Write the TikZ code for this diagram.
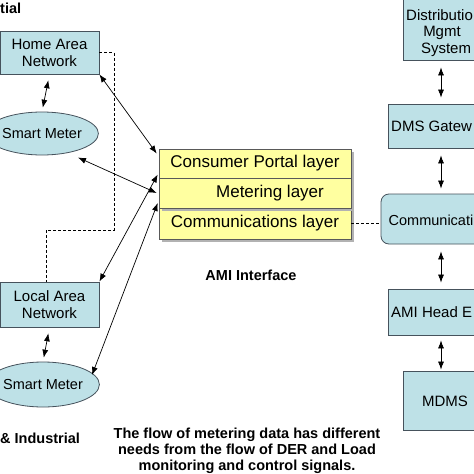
\documentclass[tikz,border=0pt]{standalone}
\usepackage{fontspec}
\setmainfont{Liberation Sans}
\usetikzlibrary{arrows.meta,shadows,calc,shapes.geometric}
\definecolor{boxfill}{RGB}{190,225,231}
\definecolor{layerfill}{RGB}{255,255,160}
\definecolor{edge}{RGB}{70,82,92}
\begin{document}
\begin{tikzpicture}[x=1pt,y=-1pt,
  box/.style={draw=edge, fill=boxfill, line width=0.8pt, inner sep=0pt, align=center, font=\fontsize{15}{17}\selectfont},
  oval/.style={ellipse, draw=edge, fill=boxfill, line width=0.8pt, inner sep=0pt, font=\fontsize{14.5}{17}\selectfont},
  layer/.style={draw=gray!70!black, fill=layerfill, line width=0.6pt, minimum width=192pt, inner sep=0pt, font=\fontsize{17}{20}\selectfont, drop shadow={shadow xshift=3pt, shadow yshift=-3pt, fill=gray!60, opacity=1}},
  dbl/.style={{Latex[length=8pt,width=6pt]}-{Latex[length=8pt,width=6pt]}, line width=0.7pt},
  dashline/.style={dashed, dash pattern=on 3pt off 2pt, line width=0.7pt},
  lbl/.style={inner sep=0pt, font=\fontsize{15}{17}\selectfont},
  bold/.style={inner sep=0pt, font=\bfseries\fontsize{14.5}{16}\selectfont, align=center}
]
\useasboundingbox (0,0) rectangle (474,474);
\clip (0,0) rectangle (474,474);
\fill[white] (0,0) rectangle (474,474);

% dashed lines (behind boxes)
\coordinate (d1) at (114,230);
\coordinate (d2) at (46,230);
\coordinate (c3) at (114,52.5);

% left column
\node[box, minimum width=99pt, minimum height=43pt] (han) at (49.5,52.5) {Home Area\\Network};
\node[oval, minimum width=94pt, minimum height=43pt] (sm1) at (42,133.5) {Smart Meter};
\node[box, minimum width=99pt, minimum height=45pt] (lan) at (49.5,304.5) {Local Area\\Network};
\node[oval, minimum width=94pt, minimum height=45pt] (sm2) at (43,384.5) {Smart Meter};

\draw[dashline] (han.east) -- (c3) -- (d1) -- (d2) -- (d2 |- lan.north);

% layers
\node[layer, minimum height=29pt] (cp) at (255,163.5) {Consumer Portal layer};
\node[layer, minimum height=30pt] (ml) at (255,193) {\hspace*{30pt}Metering layer};
\node[layer, minimum height=31pt] (cl) at (255,223.5) {Communications layer};
\node[layer, minimum height=29pt, drop shadow={opacity=0}] at (255,163.5) {Consumer Portal layer};
\node[layer, minimum height=30pt, drop shadow={opacity=0}] at (255,193) {\hspace*{30pt}Metering layer};

\node[bold] (ami) at (251,275) {AMI Interface};

% right column
\node[box, minimum width=78pt, minimum height=66pt] (dms) at (442,27) {};
\node[lbl, anchor=west] (t1) at (406,15) {Distributio};
\node[lbl] (t2) at (442,33) {Mgmt};
\node[lbl] (t3) at (446,50) {System};
\node[box, minimum width=108pt, minimum height=44pt] (gw) at (442,126) {};
\node[lbl, anchor=west] (t4) at (391,126) {DMS Gatew};
\node[box, rounded corners=8pt, minimum width=122pt, minimum height=50pt] (cm) at (442,219) {};
\node[lbl, anchor=west, font=\fontsize{14.5}{17}\selectfont] (t5) at (388.5,220) {Communicati};
\node[box, minimum width=108pt, minimum height=46pt] (he) at (442,312) {};
\node[lbl, anchor=west] (t6) at (391,312) {AMI Head E};
\node[box, minimum width=78pt, minimum height=59pt] (md) at (442,400.5) {};
\node[lbl] (t7) at (445,401) {MDMS};

\draw[dashline] (cl.east) -- (cl.east -| cm.west);

% arrows
\draw[dbl, shorten <=6pt, shorten >=4pt] (han.south) -- (sm1.north);
\draw[dbl, shorten <=6pt, shorten >=4pt] (lan.south) -- (sm2.north);
\draw[dbl, shorten <=7pt, shorten >=6pt] ([xshift=-1pt]dms.south) -- ([xshift=-1pt]gw.north);
\draw[dbl, shorten <=7pt, shorten >=5pt] ([xshift=-1pt]gw.south) -- ([xshift=-1pt]cm.north);
\draw[dbl, shorten <=7pt, shorten >=6pt] ([xshift=-1pt]cm.south) -- ([xshift=-1pt]he.north);
\draw[dbl, shorten <=5pt, shorten >=1pt] ([xshift=-1pt]he.south) -- ([xshift=-1pt]md.north);

\draw[dbl] (han.south east) -- ([xshift=-2pt,yshift=10pt]cp.west);
\draw[dbl] ($(sm1.center)+(36,24)$) -- ([xshift=-2pt,yshift=0pt]ml.west);
\draw[dbl] (lan.north east) -- ([xshift=-1pt,yshift=-11pt]cp.west);
\draw[dbl] ($(sm2.center)+(49,-9.5)$) -- ([xshift=-1pt,yshift=-10pt]ml.west);

% captions
\node[bold, anchor=west] (res) at (0,8) {tial};
\node[bold, anchor=west] (ci) at (0,438) {\& Industrial};
\node[bold] (cap) at (247,451) {The flow of metering data has different\\needs from the flow of DER and Load\\monitoring and control signals.};
\end{tikzpicture}
\end{document}
